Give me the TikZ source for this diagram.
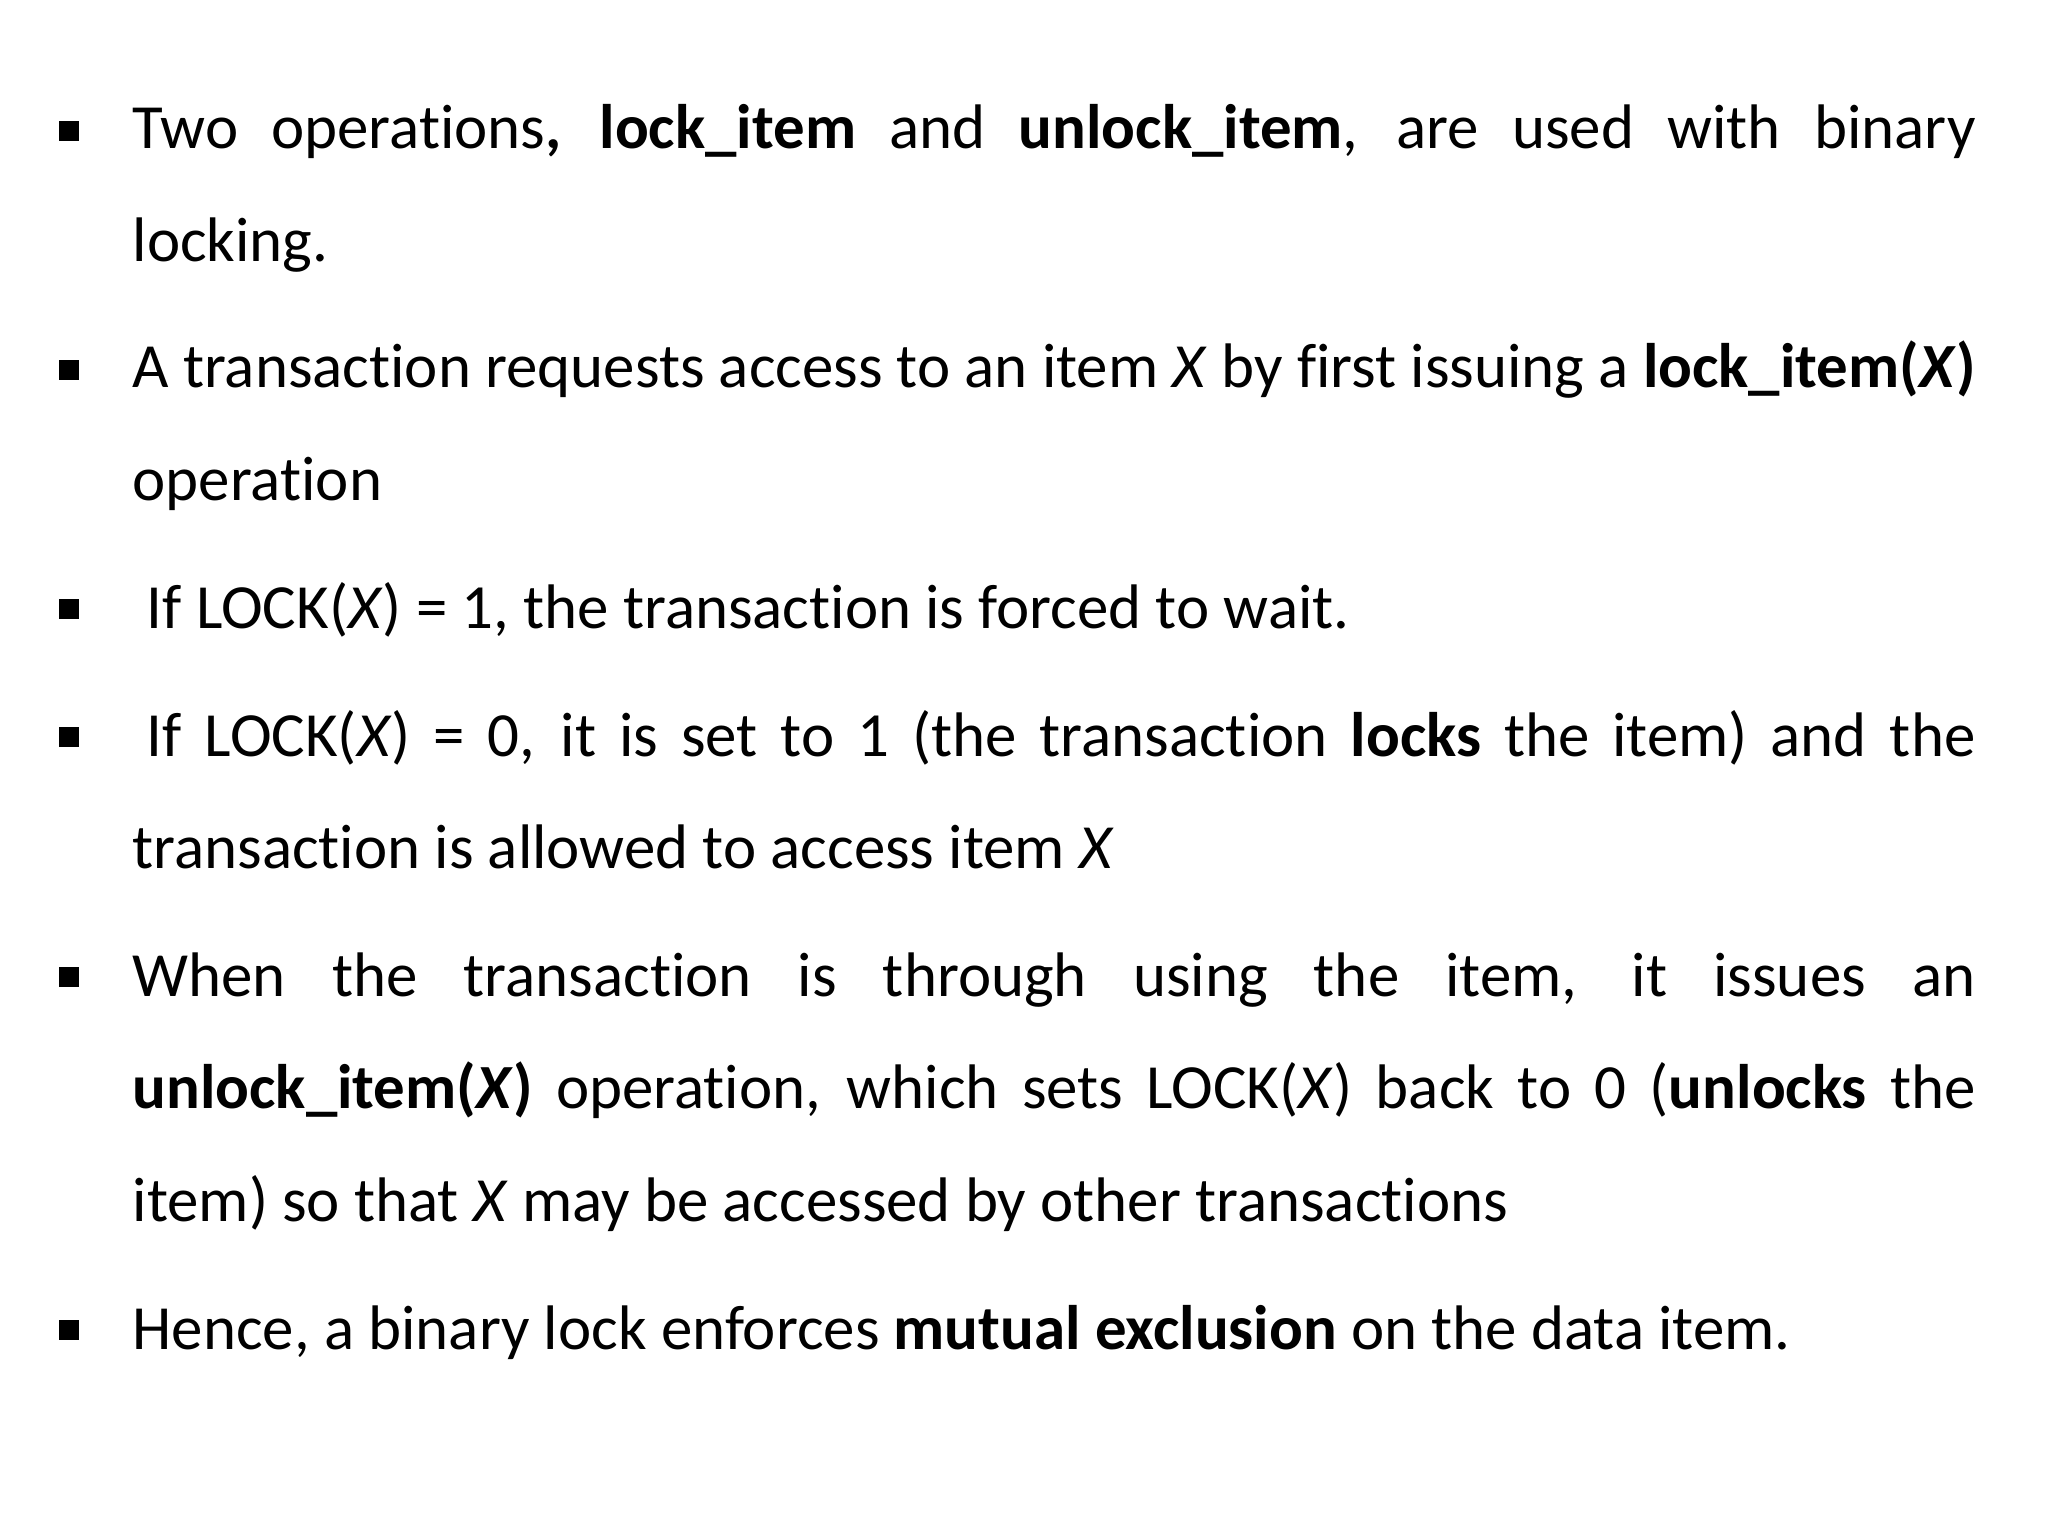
\documentclass[tikz,border=0pt]{standalone}
\usepackage{fontspec}
\setmainfont[RawFeature=-liga]{Carlito}
\newlength{\LW}\setlength{\LW}{18.43cm}
\begin{document}
\begin{tikzpicture}[x=0.01306cm,y=-0.01306cm,
  txt/.style={anchor=base west,inner sep=0pt,font=\fontsize{17.9}{22}\selectfont},
  bul/.style={fill=black,minimum size=0.2cm,inner sep=0pt,draw=none}]
\useasboundingbox (0,0) rectangle (1568,1176);
\foreach \y/\n in {100/b1,283/b2,466/b3,564/b4,748/b5,1018/b6}
  \node[bul] (\n) at (53,\y) {};
\node[txt] (l1) at (101,114) {\makebox[\LW][s]{Two operations\textbf{, lock\_item} and \textbf{unlock\_item}, are used with binary}};
\node[txt] (l2) at (101,200) {locking.};
\node[txt] (l3) at (101,297) {\makebox[\LW][s]{A transaction requests access to an item \textit{X} by first issuing a \textbf{lock\_item(\textit{X})}}};
\node[txt] (l4) at (101,383) {operation};
\node[txt] (l5) at (112,481) {If LOCK(\textit{X}) = 1, the transaction is forced to wait.};
\node[txt] (l6) at (112,579) {\makebox[\dimexpr\LW-0.145cm][s]{If LOCK(\textit{X}) = 0, it is set to 1 (the transaction \textbf{locks} the item) and the}};
\node[txt] (l7) at (101,665) {transaction is allowed to access item \textit{X}};
\node[txt] (l8) at (101,763) {\makebox[\LW][s]{When the transaction is through using the item, it issues an}};
\node[txt] (l9) at (101,849) {\makebox[\LW][s]{\textbf{unlock\_item(\textit{X})} operation, which sets LOCK(\textit{X}) back to 0 (\textbf{unlocks} the}};
\node[txt] (l10) at (101,935) {item) so that \textit{X} may be accessed by other transactions};
\node[txt] (l11) at (101,1033) {Hence, a binary lock enforces \textbf{mutual exclusion} on the data item.};
\end{tikzpicture}
\end{document}
